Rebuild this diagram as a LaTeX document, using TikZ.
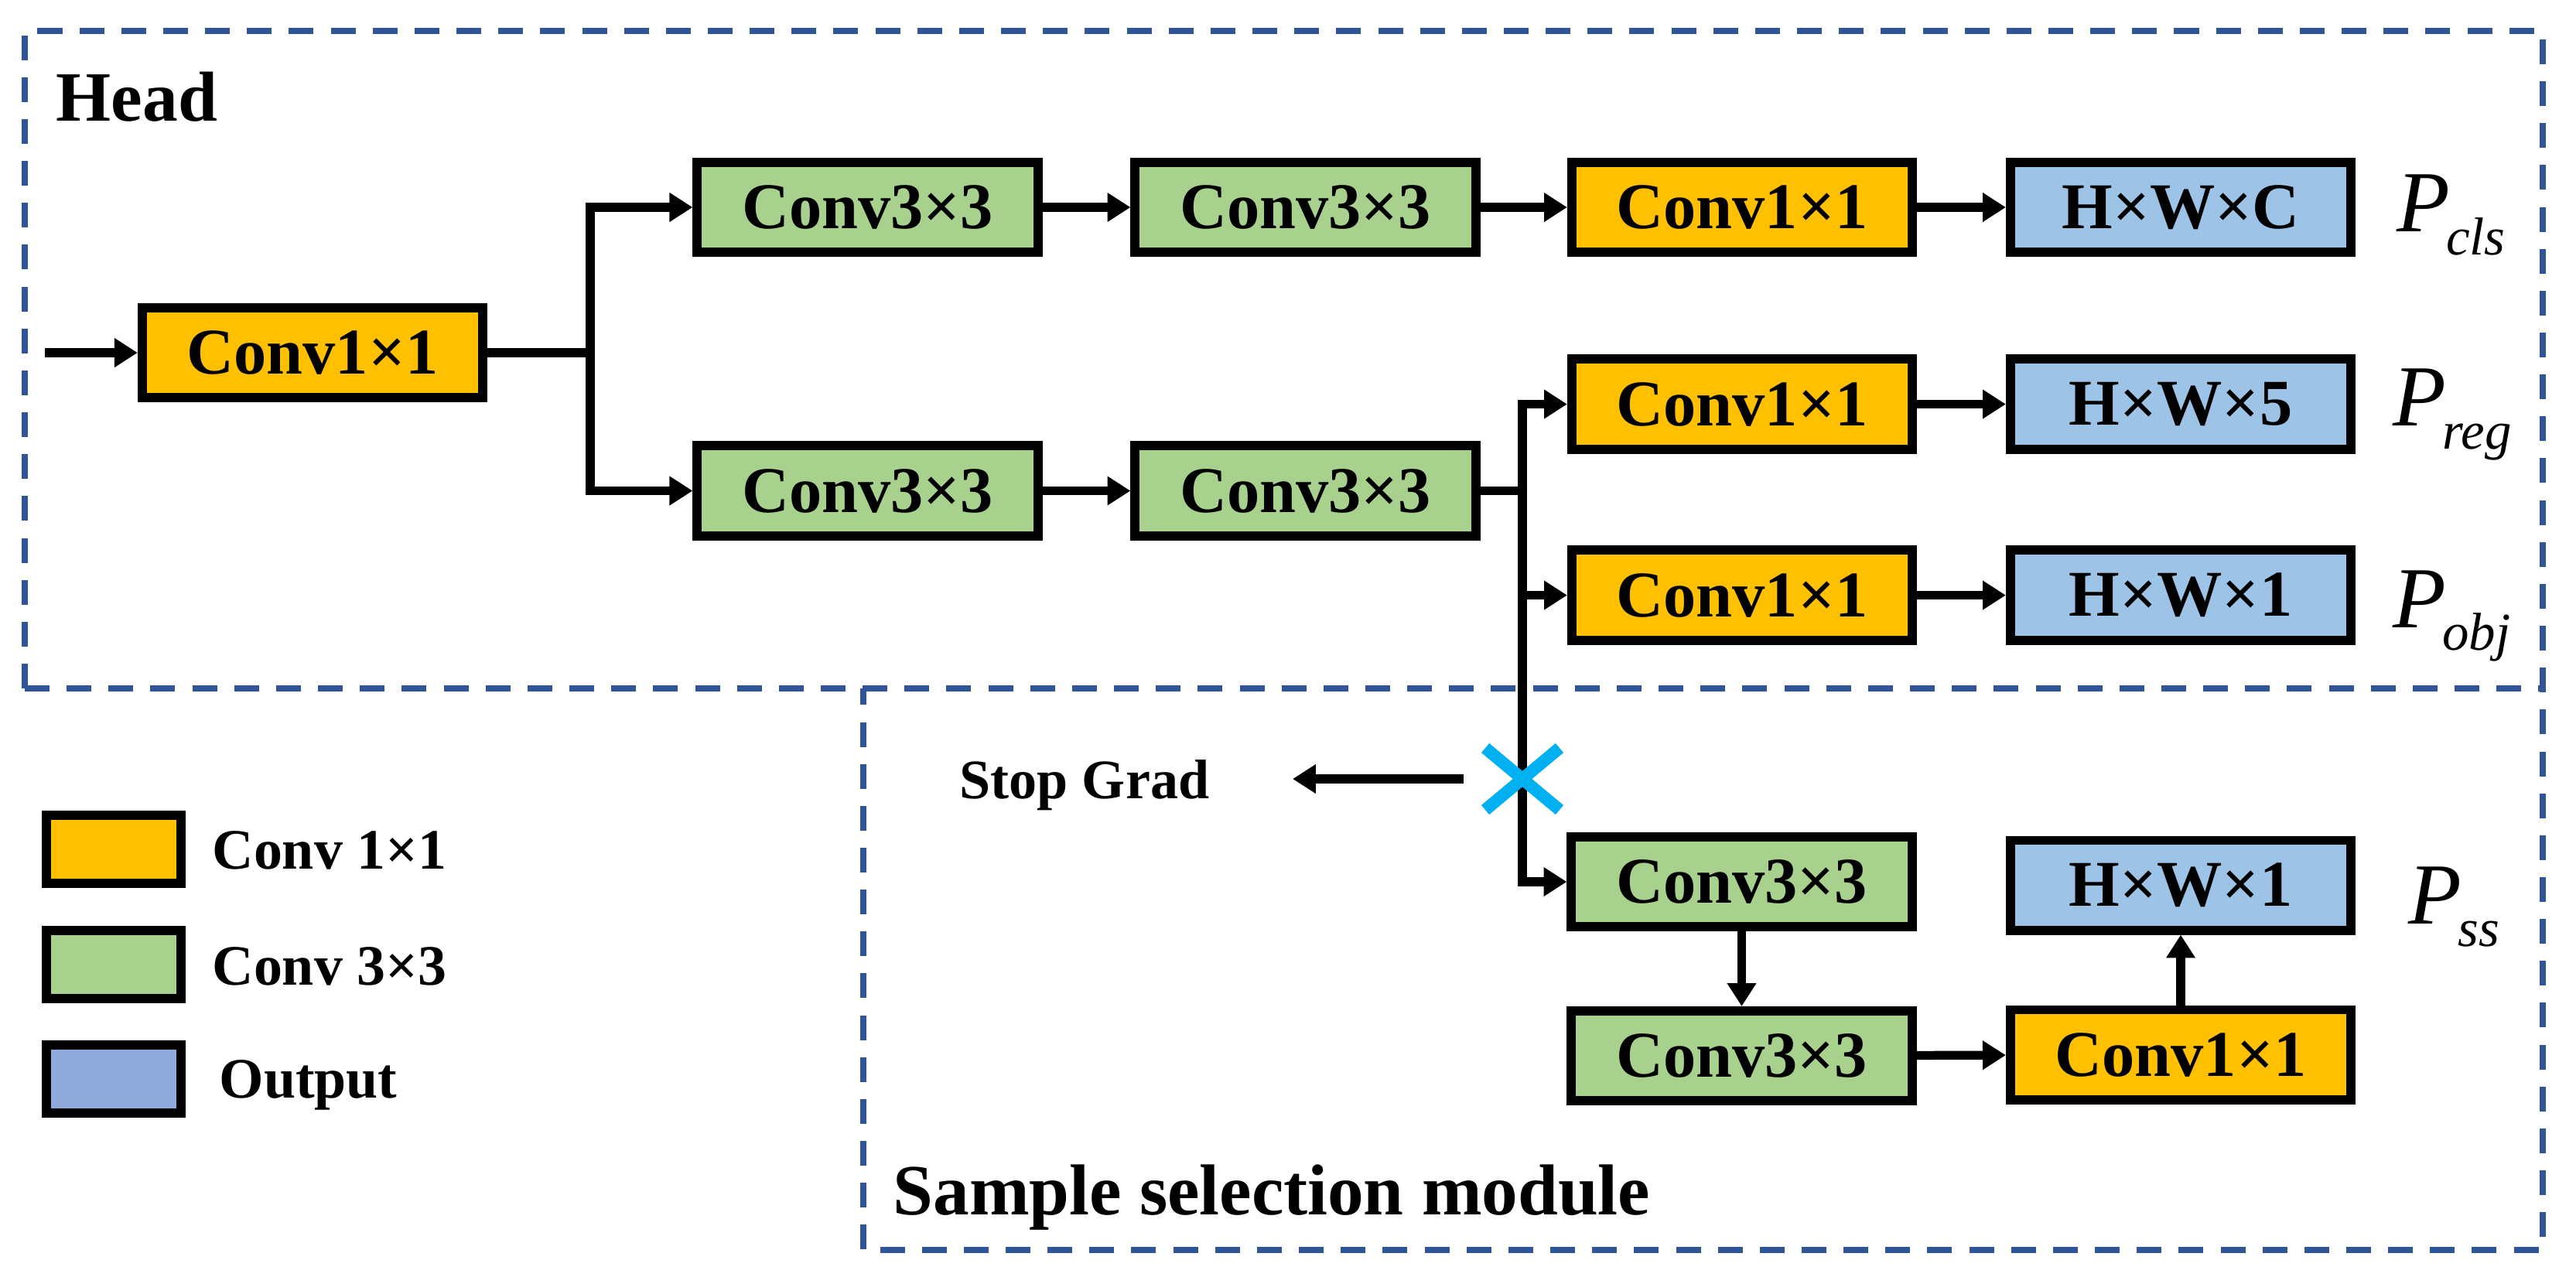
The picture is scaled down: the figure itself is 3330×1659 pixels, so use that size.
\documentclass[tikz,border=0pt]{standalone}
\usepackage{fontspec}
\setmainfont{Liberation Serif}
\usetikzlibrary{arrows.meta}
\definecolor{cyel}{HTML}{FFC000}
\definecolor{cgrn}{HTML}{A9D18E}
\definecolor{cout}{HTML}{9DC3E6}
\definecolor{clegout}{HTML}{8FAADC}
\definecolor{cdash}{RGB}{47,85,151}
\definecolor{ccross}{HTML}{00B0F0}
\begin{document}
\begin{tikzpicture}[x=0.01cm,y=-0.01cm,
  blk/.style={draw=black, line width=3.41pt, minimum width=4.40cm, minimum height=1.16cm, inner sep=0pt, font=\fontsize{24pt}{28pt}\selectfont\bfseries},
  yb/.style={blk, fill=cyel},
  gb/.style={blk, fill=cgrn},
  ob/.style={blk, fill=cout},
  legbox/.style={draw=black, line width=3.41pt, minimum width=1.74cm, minimum height=0.88cm, inner sep=0pt},
  conn/.style={line width=3.2pt, line join=miter},
  arr/.style={conn, -{Triangle[length=8.5pt,width=10.2pt]}},
  frame/.style={draw=cdash, line width=2.3pt, dash pattern=on 9.1pt off 6.3pt},
  plab/.style={anchor=base west, inner sep=0pt, font=\fontsize{32pt}{34pt}\selectfont\itshape},
  txt/.style={anchor=base west, inner sep=0pt},
]
\useasboundingbox (0,0) rectangle (3330,1659);

% dashed frames
\draw[frame] (32,890) -- (32,40) -- (3287,40) -- (3287,1616) -- (1116,1616) -- (1116,890);
\draw[frame] (32,890) -- (3287,890);

% titles
\node[txt, font=\fontsize{26pt}{30pt}\selectfont\bfseries] (head) at (72,156) {Head};
\node[txt, font=\fontsize{26.5pt}{30pt}\selectfont\bfseries] (ssm) at (1154,1570) {Sample selection module};

% head blocks
\node[yb] (c1) at (404,456) {Conv1×1};
\node[gb] (g1) at (1121.5,268) {Conv3×3};
\node[gb] (g2) at (1687.5,268) {Conv3×3};
\node[yb] (y1) at (2252,268) {Conv1×1};
\node[ob] (o1) at (2819,268) {H×W×C};
\node[gb] (g3) at (1121.5,634.5) {Conv3×3};
\node[gb] (g4) at (1687.5,634.5) {Conv3×3};
\node[yb] (y2) at (2252,522.5) {Conv1×1};
\node[ob] (o2) at (2819,522.5) {H×W×5};
\node[yb] (y3) at (2252,769.5) {Conv1×1};
\node[ob] (o3) at (2819,769.5) {H×W×1};

% sample selection blocks
\node[gb] (s1) at (2251.5,1140) {Conv3×3};
\node[ob] (so) at (2819,1144.5) {H×W×1};
\node[gb] (s2) at (2251.5,1365) {Conv3×3};
\node[yb] (sy) at (2819,1363.5) {Conv1×1};

% output labels
\node[plab] (pcls) at (3098,299) {P\kern-1.5pt\raisebox{-8.8pt}{\fontsize{19.6pt}{20pt}\selectfont cls}};
\node[plab] (preg) at (3093,550) {P\kern-1.5pt\raisebox{-8.8pt}{\fontsize{19.6pt}{20pt}\selectfont reg}};
\node[plab] (pobj) at (3093,811) {P\kern-1.5pt\raisebox{-8.3pt}{\fontsize{19.6pt}{20pt}\selectfont obj}};
\node[plab] (pss) at (3113,1194) {P\kern-1.5pt\raisebox{-8.5pt}{\fontsize{19.6pt}{20pt}\selectfont ss}};

% connectors
\coordinate (in) at (58,456);
\coordinate (b1) at (763,456);
\coordinate (b2) at (1968,634.5);
\draw[arr] (in) -- (c1.west);
\draw[conn] (c1.east) -- (b1);
\draw[arr] (b1) |- (g1.west);
\draw[arr] (b1) |- (g3.west);
\draw[arr] (g1) -- (g2);
\draw[arr] (g2) -- (y1);
\draw[arr] (y1) -- (o1);
\draw[arr] (g3) -- (g4);
\draw[conn] (g4.east) -- (b2);
\draw[arr] (b2) |- (y2.west);
\draw[arr] (b2) |- (y3.west);
\draw[arr] (b2) |- (s1.west);
\draw[arr] (y2) -- (o2);
\draw[arr] (y3) -- (o3);
\draw[arr] (s1.south) -- (s2.north);
\draw[arr] (s2) -- (sy);
\draw[arr] (sy.north) -- (so.south);

% stop gradient
\coordinate (xm) at (1968,1007);
\coordinate (sgs) at (1892,1007);
\coordinate (sge) at (1671,1007);
\draw[arr] (sgs) -- (sge);
\draw[ccross, line width=4.5pt] (xm) ++(-48,-40) -- ++(96,80);
\draw[ccross, line width=4.5pt] (xm) ++(-48,40) -- ++(96,-80);
\node[txt, font=\fontsize{20.5pt}{24pt}\selectfont\bfseries] (sg) at (1240,1032) {Stop Grad};

% legend
\node[legbox, fill=cyel] (l1) at (147,1098) {};
\node[legbox, fill=cgrn] (l2) at (147,1246.5) {};
\node[legbox, fill=clegout] (l3) at (147,1395) {};
\node[txt, font=\fontsize{21pt}{24pt}\selectfont\bfseries] (l1t) at (274,1123) {Conv 1×1};
\node[txt, font=\fontsize{21pt}{24pt}\selectfont\bfseries] (l2t) at (274,1273) {Conv 3×3};
\node[txt, font=\fontsize{21pt}{24pt}\selectfont\bfseries] (l3t) at (283,1419) {Output};
\end{tikzpicture}
\end{document}
